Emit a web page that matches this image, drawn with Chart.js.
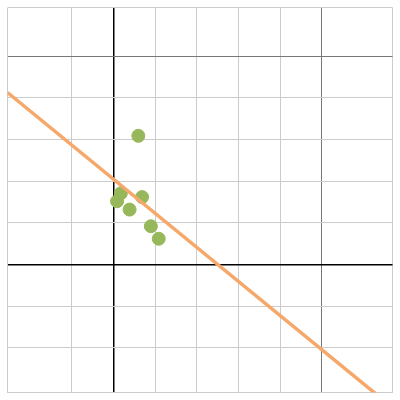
<!DOCTYPE html>
<html><head><script src="https://cdn.jsdelivr.net/npm/chart.js@4"></script>
<style>html,body{margin:0;padding:0;background:#fff}#w{width:400px;height:400px}</style></head>
<body><div id="w"><canvas id="c"></canvas></div>
<script>
const pointsX = [0.6, 0.18, 0.09, 0.69, 0.39, 0.9, 1.09];
const pointsY = [3.09, 1.71, 1.52, 1.62, 1.32, 0.92, 0.62];
const lineX = [-2.54, 6.7];
const lineY = [4.13, -3.43];
const xRange = [-2.54, 6.7];
const yRange = [-3.07, 6.17];
function gridColor(ctx){const v=ctx.tick.value;if(Math.abs(v)<1e-6)return '#000';if(Math.abs(v%5)<1e-6)return '#777';return '#ccc';}
function gridWidth(ctx){return Math.abs(ctx.tick.value)<1e-6?1.5:1;}
new Chart(document.getElementById('c'),{
type:'scatter',
data:{datasets:[
{type:'line',data:lineX.map((x,i)=>({x,y:lineY[i]})),borderColor:'#f5a86a',borderWidth:3.5,pointRadius:0,fill:false},
{data:pointsX.map((x,i)=>({x,y:pointsY[i]})),backgroundColor:'#97b85a',borderColor:'#97b85a',pointRadius:6.5}
]},
options:{responsive:true,maintainAspectRatio:false,animation:false,
layout:{padding:0},
plugins:{legend:{display:false},tooltip:{enabled:false}},
scales:{
x:{type:'linear',min:xRange[0],max:xRange[1],ticks:{display:false,stepSize:1},border:{display:false},grid:{color:gridColor,lineWidth:gridWidth,drawTicks:false}},
y:{type:'linear',min:yRange[0],max:yRange[1],ticks:{display:false,stepSize:1},border:{display:false},grid:{color:gridColor,lineWidth:gridWidth,drawTicks:false}}
}}
});
</script></body></html>
